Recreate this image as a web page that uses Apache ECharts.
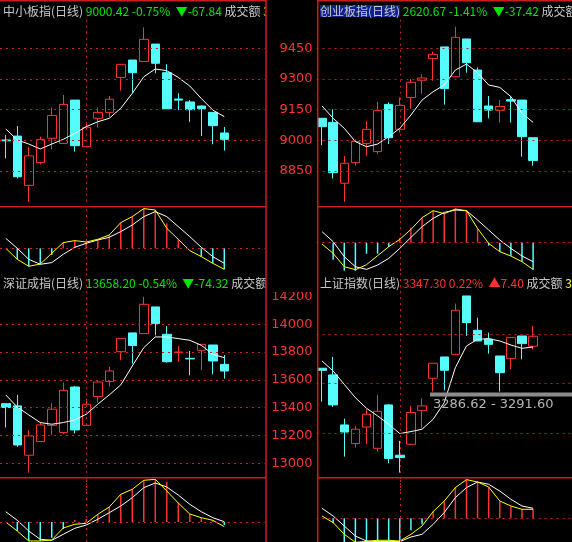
<!DOCTYPE html>
<html><head><meta charset="utf-8">
<script src="https://cdn.jsdelivr.net/npm/echarts@6/dist/echarts.min.js"></script>
<style>html,body{margin:0;padding:0;background:#000}#c{width:572px;height:542px}</style>
</head><body><div id="c"></div>
<script>
const days = Array.from({length:23},(_,i)=>'D'+(i+1));
// [open, close, low, high]
const zxbK = [[9002,8998,8912,9026],[9021,8822,8814,9070],[8780,8924,8700,8969],[8891,9005,8883,9018],[9010,9122,8956,9161],[8985,9176,8982,9222],[9197,8974,8945,9197],[8969,9064,8969,9080],[9108,9137,9062,9161],[9137,9201,9113,9217],[9308,9372,9243,9372],[9393,9331,9233,9393],[9386,9494,9386,9553],[9471,9377,9328,9471],[9331,9155,9152,9373],[9202,9197,9148,9230],[9188,9150,9091,9197],[9168,9155,9021,9171],[9137,9072,8981,9137],[9036,9005,8950,9065]];
const zxbMA = [9056,9002,8982,8958,8982,9005,9034,9067,9091,9108,9157,9230,9311,9349,9341,9308,9266,9205,9148,9116];
const zxbDIF = [0,-11,-18,-15.7,-5,5.7,7.7,6.3,9,13.3,25.7,31.7,39.7,38.3,20,9,-2.3,-8.3,-15,-21];
const zxbDEA = [10,0,-11,-16,-14.3,-6,1,5,8.3,11,16.7,23.3,31.7,36.7,31.7,21.7,11.7,1,-8.3,-15];
const zxbHist = [0,-11,-18,-15.7,-6.7,5.7,7.7,6.3,9,13.3,25.7,31.7,39.7,38.3,25,9,0,-8.3,-15,-21];

const cybK = [[9108,9067,8977,9108],[9088,8842,8814,9152],[8790,8888,8700,8924],[8891,8994,8876,9005],[8985,9054,8925,9095],[8945,9147,8933,9188],[9176,9013,8982,9186],[9054,9171,9038,9210],[9210,9284,9155,9300],[9294,9305,9227,9324],[9401,9421,9292,9434],[9457,9253,9175,9457],[9311,9504,9311,9556],[9496,9380,9331,9496],[9344,9091,9091,9357],[9168,9148,9108,9217],[9147,9166,9087,9197],[9199,9192,9087,9217],[9197,9018,8920,9197],[9013,8901,8876,9013]];
const cybMA = [9168,9108,9059,8994,8969,8982,9018,9059,9124,9197,9238,9271,9344,9373,9331,9271,9259,9214,9132,9088];
const cybDIF = [-1.3,-10.7,-24,-27,-22,-13,-4,3.3,13.3,25,32,29,33.7,32,14.3,-0.7,-9,-13.3,-19,-26.7];
const cybDEA = [11,1,-14,-24,-26.7,-22.3,-15.7,-5.7,5.3,16,24.3,30.3,32.7,32,22.7,12.7,2.7,-5.7,-13.3,-19];
const cybHist = [0,-17,-28,-28,-11,-11,-4,5,15,25,32,29,34,32,14,-3,-9,-13,-19,-27];

const szcK = [[13429,13401,13257,13429],[13413,13132,13118,13492],[13058,13197,12933,13238],[13156,13276,13156,13293],[13273,13389,13202,13432],[13221,13525,13209,13580],[13549,13240,13216,13556],[13273,13425,13273,13465],[13480,13585,13437,13592],[13588,13664,13552,13693],[13803,13899,13741,13899],[13938,13847,13717,13938],[13933,14144,13933,14197],[14125,14005,13921,14125],[13928,13731,13724,13988],[13796,13801,13731,13844],[13755,13751,13633,13808],[13813,13856,13672,13856],[13851,13736,13640,13851],[13712,13664,13609,13779]];
const szcMA = [13492,13405,13348,13293,13281,13293,13312,13353,13425,13492,13564,13700,13832,13909,13909,13897,13885,13849,13784,13760];
const szcDIF = [0,-9,-19,-19,-18,-6,-2.3,-1.3,7.7,15,27.7,32.7,41.7,42.7,31,19,8,4.3,1.7,-4.7];
const szcDEA = [10.3,1.7,-9,-17.3,-18.3,-12.3,-6.3,-3,2.7,9.3,16,24.3,34.3,39,35,27,17.7,10.3,4.3,0.3];
const szcHist = [0,-9,-19,-19,-15.7,-7,2,3,7.7,15,27.7,32.7,41.7,42.7,40,19,8,4.3,1.7,-3];

const szzK = [[13684,13669,13444,13684],[13636,13420,13405,13765],[13276,13225,13048,13321],[13142,13245,13113,13269],[13261,13353,13137,13389],[13108,13374,13084,13492],[13420,13034,13000,13425],[13058,13041,12933,13161],[13137,13365,13130,13413],[13381,13413,13257,13468],[13612,13720,13516,13720],[13765,13669,13525,13765],[13784,14101,13784,14149],[14204,14012,13916,14204],[13957,13880,13880,14048],[13892,13856,13789,13940],[13772,13652,13516,13772],[13755,13904,13676,13904],[13916,13861,13748,13916],[13842,13914,13820,13988]];
const szzMA = [13736,13664,13568,13472,13396,13341,13281,13214,13228,13245,13317,13437,13688,13844,13892,13897,13880,13851,13827,13837];
const szzDIF = [2.3,-4.3,-16,-24,-23,-22,-22,-22.7,-16,-7.7,6.7,17.3,30.7,38.7,36.3,31.3,17.3,12.3,9,9];
const szzDEA = [10,2.3,-7.7,-17.7,-22.7,-23.3,-23.3,-23.3,-18.7,-16,-6,5.7,20.7,30.7,36.3,34,27.3,19,12.3,10];
const szzHist = [0,-5,-24,-24,-24,-24,-24,-24,-12,-6,7,17,31,39,36,31,17,12,9,9];

const topTicks = [8850,9000,9150,9300,9450];
const szcLines = [13000,13200,13400,13600,13800,14000];
const szzLines = [13216,13576,13928];

const RED='#ff3232', CYAN='#54fcfc', GRIDRED='#c81e1e';
const grid=[], xAxis=[], yAxis=[], series=[];
function panel(o){
  const gi=grid.length;
  grid.push({left:o.left,top:o.kTop,width:o.w,height:o.kH});
  grid.push({left:o.left,top:o.mTop,width:o.w,height:64.3});
  [0,1].forEach(k=>xAxis.push({type:'category',data:days,gridIndex:gi+k,show:false,boundaryGap:true}));
  yAxis.push({type:'value',gridIndex:gi,min:o.min,max:o.max,interval:o.interval,splitLine:{show:false},axisLine:{show:false},axisTick:{show:false},
    axisLabel:{show:o.labels,margin:4,color:RED,fontSize:13,fontFamily:'DejaVu Sans',formatter:v=>(v===o.min||v===o.max)?'':String(v)}});
  yAxis.push({type:'value',gridIndex:gi+1,min:o.mMin,max:o.mMax,show:false,splitLine:{show:false}});
  const vline={xAxis:7,lineStyle:{color:GRIDRED,type:[2,4],width:1}};
  series.push({type:'candlestick',xAxisIndex:gi,yAxisIndex:gi,data:o.k,barWidth:9,
    itemStyle:{color:'#000',color0:CYAN,borderColor:RED,borderColor0:CYAN,borderWidth:1},
    markLine:{silent:true,symbol:'none',label:{show:false},animation:false,
      data:[vline].concat(o.lines.map(v=>({yAxis:v,lineStyle:{color:GRIDRED,type:[2,4],width:1}})))},
    z:3});
  series.push({type:'line',xAxisIndex:gi,yAxisIndex:gi,data:o.ma,symbol:'none',lineStyle:{color:'#fff',width:1},z:4});
  series.push({type:'bar',xAxisIndex:gi+1,yAxisIndex:gi+1,barWidth:1.5,
    data:o.hist.map(v=>({value:v,itemStyle:{color:v>=0?RED:CYAN}})),
    markLine:{silent:true,symbol:'none',label:{show:false},animation:false,
      data:[{yAxis:0,lineStyle:{color:GRIDRED,type:[2,4],width:1}},vline]}});
  series.push({type:'line',xAxisIndex:gi+1,yAxisIndex:gi+1,data:o.dea,symbol:'none',lineStyle:{color:'#fff',width:1}});
  series.push({type:'line',xAxisIndex:gi+1,yAxisIndex:gi+1,data:o.dif,symbol:'none',lineStyle:{color:'#ffff00',width:1}});
}
const SW=23*11.58;
panel({left:-1.8,w:SW,kTop:17.7,kH:184,min:8700,max:9600,interval:150,labels:false,lines:topTicks,k:zxbK,ma:zxbMA,
  mTop:206.7,mMin:-22.7,mMax:41.6,hist:zxbHist,dif:zxbDIF,dea:zxbDEA});
panel({left:316.5,w:SW,kTop:17.7,kH:184,min:8700,max:9600,interval:150,labels:true,lines:topTicks,k:cybK,ma:cybMA,
  mTop:206.7,mMin:-28.3,mMax:36,hist:cybHist,dif:cybDIF,dea:cybDEA});
panel({left:-1.8,w:SW,kTop:268.7,kH:222.4,min:12800,max:14400,interval:200,labels:false,lines:szcLines,k:szcK,ma:szcMA,
  mTop:477.7,mMin:-20,mMax:44.3,hist:szcHist,dif:szcDIF,dea:szcDEA});
panel({left:316.5,w:SW,kTop:268.7,kH:222.4,min:12800,max:14400,interval:200,labels:true,lines:szzLines,k:szzK,ma:szzMA,
  mTop:477.7,mMin:-23.7,mMax:40.6,hist:szzHist,dif:szzDIF,dea:szzDEA});

const FF='Noto Sans CJK SC';
const mk=(c,s,extra)=>Object.assign({fill:c,fontSize:s,fontFamily:FF},extra||{});
const rich={g:mk('#c8c8c8',12),n:mk('#00e600',12),r:mk(RED,12),
  b:mk('#c8c8c8',12,{backgroundColor:'#10208c'}),y:mk('#ffff00',12)};
function title(x,y,t){return {type:'text',x:x,y:y,z:10,style:{text:t,rich:rich,fill:'#c8c8c8',fontSize:12,fontFamily:FF}};}
const line=(x1,y1,x2,y2)=>({type:'line',z:12,shape:{x1,y1,x2,y2},style:{stroke:GRIDRED,lineWidth:1.5}});
const graphic=[
  {type:'rect',z:11,shape:{x:266,y:0,width:51,height:20},style:{fill:'#000'}},
  {type:'rect',z:11,shape:{x:266,y:272,width:51,height:20},style:{fill:'#000'}},
  title(3,5,'{g|中小板指(日线)} {n|9000.42 -0.75%  ▼-67.84} {g|成交额} {y|3}'),
  title(320,5,'{b|创业板指(日线)} {n|2620.67 -1.41%  ▼-37.42} {g|成交额}'),
  title(3,277,'{g|深证成指(日线)} {n|13658.20 -0.54%  ▼-74.32} {g|成交额}'),
  title(320,277,'{g|上证指数(日线)} {r|3347.30 0.22%  ▲7.40} {g|成交额} {y|3}'),
  line(0,0.75,266,0.75), line(317.7,0.75,572,0.75),
  line(266,0,266,542), line(317.7,0,317.7,542),
  line(0,206.7,266,206.7), line(317.7,206.7,572,206.7),
  line(0,477.7,266,477.7), line(317.7,477.7,572,477.7),
  {type:'rect',z:6,shape:{x:430,y:392.5,width:142,height:4},style:{fill:'#8c8c8c'}},
  {type:'text',z:7,x:433,y:398,style:{text:'3286.62 - 3291.60',fill:'#b4b4b4',fontSize:13,fontFamily:'DejaVu Sans'}}
];
const chart=echarts.init(document.getElementById('c'));
chart.setOption({backgroundColor:'#000',animation:false,grid,xAxis,yAxis,series,graphic});
</script></body></html>
